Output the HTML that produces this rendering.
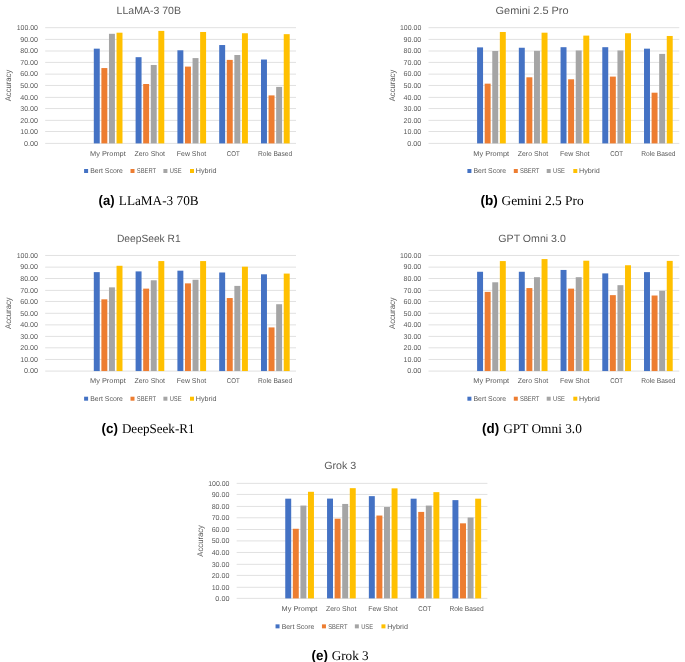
<!DOCTYPE html>
<html lang="en">
<head>
<meta charset="utf-8">
<title>Accuracy comparison charts</title>
<style>
html,body{margin:0;padding:0;background:#fff;}
body{width:685px;height:662px;overflow:hidden;}
svg{display:block;}
text{font-family:"Liberation Sans",sans-serif;fill:#595959;text-rendering:geometricPrecision;}
.ax{font-size:7px;}
.ay{font-size:8.2px;}
.ti{font-size:10.5px;}
.cb{font-size:13.7px;font-weight:bold;fill:#000;}
.ct{font-family:"Liberation Serif",serif;font-size:13.4px;fill:#000;}
</style>
</head>
<body>
<svg width="685" height="662" viewBox="0 0 685 662">
<rect width="685" height="662" fill="#ffffff"/>
<g id="chart-a">
<line x1="45.2" x2="296" y1="143.4" y2="143.4" stroke="#E1E1E1" stroke-width="1"/>
<text class="ax" x="38" y="145.7" text-anchor="end" textLength="14.1" lengthAdjust="spacingAndGlyphs">0.00</text>
<line x1="45.2" x2="296" y1="131.5" y2="131.5" stroke="#E1E1E1" stroke-width="1"/>
<text class="ax" x="38" y="133.8" text-anchor="end" textLength="17.8" lengthAdjust="spacingAndGlyphs">10.00</text>
<line x1="45.2" x2="296" y1="120.35" y2="120.35" stroke="#E1E1E1" stroke-width="1"/>
<text class="ax" x="38" y="122.65" text-anchor="end" textLength="17.8" lengthAdjust="spacingAndGlyphs">20.00</text>
<line x1="45.2" x2="296" y1="108.55" y2="108.55" stroke="#E1E1E1" stroke-width="1"/>
<text class="ax" x="38" y="110.85" text-anchor="end" textLength="17.8" lengthAdjust="spacingAndGlyphs">30.00</text>
<line x1="45.2" x2="296" y1="97.4" y2="97.4" stroke="#E1E1E1" stroke-width="1"/>
<text class="ax" x="38" y="99.7" text-anchor="end" textLength="17.8" lengthAdjust="spacingAndGlyphs">40.00</text>
<line x1="45.2" x2="296" y1="85.45" y2="85.45" stroke="#E1E1E1" stroke-width="1"/>
<text class="ax" x="38" y="87.75" text-anchor="end" textLength="17.8" lengthAdjust="spacingAndGlyphs">50.00</text>
<line x1="45.2" x2="296" y1="74.15" y2="74.15" stroke="#E1E1E1" stroke-width="1"/>
<text class="ax" x="38" y="76.45" text-anchor="end" textLength="17.8" lengthAdjust="spacingAndGlyphs">60.00</text>
<line x1="45.2" x2="296" y1="62.4" y2="62.4" stroke="#E1E1E1" stroke-width="1"/>
<text class="ax" x="38" y="64.7" text-anchor="end" textLength="17.8" lengthAdjust="spacingAndGlyphs">70.00</text>
<line x1="45.2" x2="296" y1="51" y2="51" stroke="#E1E1E1" stroke-width="1"/>
<text class="ax" x="38" y="53.3" text-anchor="end" textLength="17.8" lengthAdjust="spacingAndGlyphs">80.00</text>
<line x1="45.2" x2="296" y1="39.4" y2="39.4" stroke="#E1E1E1" stroke-width="1"/>
<text class="ax" x="38" y="41.7" text-anchor="end" textLength="17.8" lengthAdjust="spacingAndGlyphs">90.00</text>
<line x1="45.2" x2="296" y1="27.7" y2="27.7" stroke="#E1E1E1" stroke-width="1"/>
<text class="ax" x="38" y="30" text-anchor="end" textLength="21.3" lengthAdjust="spacingAndGlyphs">100.00</text>
<rect x="93.8" y="48.66" width="5.95" height="94.74" fill="#4472C4"/>
<rect x="101.38" y="68.06" width="5.95" height="75.34" fill="#ED7D31"/>
<rect x="108.96" y="33.8" width="5.95" height="109.6" fill="#A5A5A5"/>
<rect x="116.54" y="32.7" width="5.95" height="110.7" fill="#FFC000"/>
<rect x="135.6" y="57.18" width="5.95" height="86.22" fill="#4472C4"/>
<rect x="143.18" y="84" width="5.95" height="59.4" fill="#ED7D31"/>
<rect x="150.76" y="64.98" width="5.95" height="78.42" fill="#A5A5A5"/>
<rect x="158.34" y="30.9" width="5.95" height="112.5" fill="#FFC000"/>
<rect x="177.4" y="50.29" width="5.95" height="93.11" fill="#4472C4"/>
<rect x="184.98" y="66.6" width="5.95" height="76.8" fill="#ED7D31"/>
<rect x="192.56" y="58.09" width="5.95" height="85.31" fill="#A5A5A5"/>
<rect x="200.14" y="31.98" width="5.95" height="111.42" fill="#FFC000"/>
<rect x="219.2" y="45.04" width="5.95" height="98.36" fill="#4472C4"/>
<rect x="226.78" y="59.9" width="5.95" height="83.5" fill="#ED7D31"/>
<rect x="234.36" y="55" width="5.95" height="88.4" fill="#A5A5A5"/>
<rect x="241.94" y="33.25" width="5.95" height="110.15" fill="#FFC000"/>
<rect x="261" y="59.54" width="5.95" height="83.86" fill="#4472C4"/>
<rect x="268.58" y="95.4" width="5.95" height="48" fill="#ED7D31"/>
<rect x="276.16" y="86.9" width="5.95" height="56.5" fill="#A5A5A5"/>
<rect x="283.74" y="34.16" width="5.95" height="109.24" fill="#FFC000"/>
<text class="ax" x="107.9" y="155.6" text-anchor="middle" textLength="35.7" lengthAdjust="spacingAndGlyphs">My Prompt</text>
<text class="ax" x="149.7" y="155.6" text-anchor="middle" textLength="30.5" lengthAdjust="spacingAndGlyphs">Zero Shot</text>
<text class="ax" x="191.5" y="155.6" text-anchor="middle" textLength="29.4" lengthAdjust="spacingAndGlyphs">Few Shot</text>
<text class="ax" x="233.3" y="155.6" text-anchor="middle" textLength="12.9" lengthAdjust="spacingAndGlyphs">COT</text>
<text class="ax" x="275.1" y="155.6" text-anchor="middle" textLength="34.3" lengthAdjust="spacingAndGlyphs">Role Based</text>
<text class="ti" x="148.8" y="13.9" text-anchor="middle" textLength="64.39999999999999" lengthAdjust="spacingAndGlyphs">LLaMA-3 70B</text>
<text class="ay" transform="translate(11.3 85.5) rotate(-90)" text-anchor="middle" textLength="31.6" lengthAdjust="spacingAndGlyphs">Accuracy</text>
<rect x="84.1" y="169" width="4" height="4" fill="#4472C4"/>
<text class="ax" x="90.2" y="173.15" textLength="32.7" lengthAdjust="spacingAndGlyphs">Bert Score</text>
<rect x="130.5" y="169" width="4" height="4" fill="#ED7D31"/>
<text class="ax" x="136.8" y="173.15" textLength="19.2" lengthAdjust="spacingAndGlyphs">SBERT</text>
<rect x="163.4" y="169" width="4" height="4" fill="#A5A5A5"/>
<text class="ax" x="169.7" y="173.15" textLength="11.9" lengthAdjust="spacingAndGlyphs">USE</text>
<rect x="190" y="169" width="4" height="4" fill="#FFC000"/>
<text class="ax" x="195.7" y="173.15" textLength="20.8" lengthAdjust="spacingAndGlyphs">Hybrid</text>
<text class="cb" x="98.6" y="204.6" textLength="16.0" lengthAdjust="spacingAndGlyphs">(a)</text>
<text class="ct" x="118.8" y="204.6" textLength="79.8" lengthAdjust="spacingAndGlyphs">LLaMA-3 70B</text>
</g>
<g id="chart-b">
<line x1="428.5" x2="679.3" y1="143.4" y2="143.4" stroke="#E1E1E1" stroke-width="1"/>
<text class="ax" x="421.3" y="145.7" text-anchor="end" textLength="14.1" lengthAdjust="spacingAndGlyphs">0.00</text>
<line x1="428.5" x2="679.3" y1="131.5" y2="131.5" stroke="#E1E1E1" stroke-width="1"/>
<text class="ax" x="421.3" y="133.8" text-anchor="end" textLength="17.8" lengthAdjust="spacingAndGlyphs">10.00</text>
<line x1="428.5" x2="679.3" y1="120.35" y2="120.35" stroke="#E1E1E1" stroke-width="1"/>
<text class="ax" x="421.3" y="122.65" text-anchor="end" textLength="17.8" lengthAdjust="spacingAndGlyphs">20.00</text>
<line x1="428.5" x2="679.3" y1="108.55" y2="108.55" stroke="#E1E1E1" stroke-width="1"/>
<text class="ax" x="421.3" y="110.85" text-anchor="end" textLength="17.8" lengthAdjust="spacingAndGlyphs">30.00</text>
<line x1="428.5" x2="679.3" y1="97.4" y2="97.4" stroke="#E1E1E1" stroke-width="1"/>
<text class="ax" x="421.3" y="99.7" text-anchor="end" textLength="17.8" lengthAdjust="spacingAndGlyphs">40.00</text>
<line x1="428.5" x2="679.3" y1="85.45" y2="85.45" stroke="#E1E1E1" stroke-width="1"/>
<text class="ax" x="421.3" y="87.75" text-anchor="end" textLength="17.8" lengthAdjust="spacingAndGlyphs">50.00</text>
<line x1="428.5" x2="679.3" y1="74.15" y2="74.15" stroke="#E1E1E1" stroke-width="1"/>
<text class="ax" x="421.3" y="76.45" text-anchor="end" textLength="17.8" lengthAdjust="spacingAndGlyphs">60.00</text>
<line x1="428.5" x2="679.3" y1="62.4" y2="62.4" stroke="#E1E1E1" stroke-width="1"/>
<text class="ax" x="421.3" y="64.7" text-anchor="end" textLength="17.8" lengthAdjust="spacingAndGlyphs">70.00</text>
<line x1="428.5" x2="679.3" y1="51" y2="51" stroke="#E1E1E1" stroke-width="1"/>
<text class="ax" x="421.3" y="53.3" text-anchor="end" textLength="17.8" lengthAdjust="spacingAndGlyphs">80.00</text>
<line x1="428.5" x2="679.3" y1="39.4" y2="39.4" stroke="#E1E1E1" stroke-width="1"/>
<text class="ax" x="421.3" y="41.7" text-anchor="end" textLength="17.8" lengthAdjust="spacingAndGlyphs">90.00</text>
<line x1="428.5" x2="679.3" y1="27.7" y2="27.7" stroke="#E1E1E1" stroke-width="1"/>
<text class="ax" x="421.3" y="30" text-anchor="end" textLength="21.3" lengthAdjust="spacingAndGlyphs">100.00</text>
<rect x="477.1" y="47.39" width="5.95" height="96.01" fill="#4472C4"/>
<rect x="484.68" y="83.65" width="5.95" height="59.75" fill="#ED7D31"/>
<rect x="492.26" y="51" width="5.95" height="92.4" fill="#A5A5A5"/>
<rect x="499.84" y="31.98" width="5.95" height="111.42" fill="#FFC000"/>
<rect x="518.83" y="47.75" width="5.95" height="95.65" fill="#4472C4"/>
<rect x="526.41" y="77.3" width="5.95" height="66.1" fill="#ED7D31"/>
<rect x="533.99" y="50.84" width="5.95" height="92.56" fill="#A5A5A5"/>
<rect x="541.57" y="32.7" width="5.95" height="110.7" fill="#FFC000"/>
<rect x="560.56" y="47.2" width="5.95" height="96.2" fill="#4472C4"/>
<rect x="568.14" y="79.3" width="5.95" height="64.1" fill="#ED7D31"/>
<rect x="575.72" y="50.47" width="5.95" height="92.93" fill="#A5A5A5"/>
<rect x="583.3" y="35.6" width="5.95" height="107.8" fill="#FFC000"/>
<rect x="602.29" y="47.2" width="5.95" height="96.2" fill="#4472C4"/>
<rect x="609.87" y="76.6" width="5.95" height="66.8" fill="#ED7D31"/>
<rect x="617.45" y="50.47" width="5.95" height="92.93" fill="#A5A5A5"/>
<rect x="625.03" y="33.25" width="5.95" height="110.15" fill="#FFC000"/>
<rect x="644.02" y="48.66" width="5.95" height="94.74" fill="#4472C4"/>
<rect x="651.6" y="92.7" width="5.95" height="50.7" fill="#ED7D31"/>
<rect x="659.18" y="53.9" width="5.95" height="89.5" fill="#A5A5A5"/>
<rect x="666.76" y="35.97" width="5.95" height="107.43" fill="#FFC000"/>
<text class="ax" x="491.2" y="155.6" text-anchor="middle" textLength="35.7" lengthAdjust="spacingAndGlyphs">My Prompt</text>
<text class="ax" x="533" y="155.6" text-anchor="middle" textLength="30.5" lengthAdjust="spacingAndGlyphs">Zero Shot</text>
<text class="ax" x="574.8" y="155.6" text-anchor="middle" textLength="29.4" lengthAdjust="spacingAndGlyphs">Few Shot</text>
<text class="ax" x="616.6" y="155.6" text-anchor="middle" textLength="12.9" lengthAdjust="spacingAndGlyphs">COT</text>
<text class="ax" x="658.4" y="155.6" text-anchor="middle" textLength="34.3" lengthAdjust="spacingAndGlyphs">Role Based</text>
<text class="ti" x="532.1" y="13.9" text-anchor="middle" textLength="73.0" lengthAdjust="spacingAndGlyphs">Gemini 2.5 Pro</text>
<text class="ay" transform="translate(394.6 85.5) rotate(-90)" text-anchor="middle" textLength="31.6" lengthAdjust="spacingAndGlyphs">Accuracy</text>
<rect x="467.4" y="169" width="4" height="4" fill="#4472C4"/>
<text class="ax" x="473.5" y="173.15" textLength="32.7" lengthAdjust="spacingAndGlyphs">Bert Score</text>
<rect x="513.8" y="169" width="4" height="4" fill="#ED7D31"/>
<text class="ax" x="520.1" y="173.15" textLength="19.2" lengthAdjust="spacingAndGlyphs">SBERT</text>
<rect x="546.7" y="169" width="4" height="4" fill="#A5A5A5"/>
<text class="ax" x="553" y="173.15" textLength="11.9" lengthAdjust="spacingAndGlyphs">USE</text>
<rect x="573.3" y="169" width="4" height="4" fill="#FFC000"/>
<text class="ax" x="579" y="173.15" textLength="20.8" lengthAdjust="spacingAndGlyphs">Hybrid</text>
<text class="cb" x="480.4" y="204.6" textLength="17.400000000000002" lengthAdjust="spacingAndGlyphs">(b)</text>
<text class="ct" x="501.5" y="204.6" textLength="82.1" lengthAdjust="spacingAndGlyphs">Gemini 2.5 Pro</text>
</g>
<g id="chart-c">
<line x1="45.2" x2="296" y1="371.08" y2="371.08" stroke="#E1E1E1" stroke-width="1"/>
<text class="ax" x="38" y="373.38" text-anchor="end" textLength="14.1" lengthAdjust="spacingAndGlyphs">0.00</text>
<line x1="45.2" x2="296" y1="359.46" y2="359.46" stroke="#E1E1E1" stroke-width="1"/>
<text class="ax" x="38" y="361.76" text-anchor="end" textLength="17.8" lengthAdjust="spacingAndGlyphs">10.00</text>
<line x1="45.2" x2="296" y1="347.8" y2="347.8" stroke="#E1E1E1" stroke-width="1"/>
<text class="ax" x="38" y="350.1" text-anchor="end" textLength="17.8" lengthAdjust="spacingAndGlyphs">20.00</text>
<line x1="45.2" x2="296" y1="336.4" y2="336.4" stroke="#E1E1E1" stroke-width="1"/>
<text class="ax" x="38" y="338.7" text-anchor="end" textLength="17.8" lengthAdjust="spacingAndGlyphs">30.00</text>
<line x1="45.2" x2="296" y1="324.87" y2="324.87" stroke="#E1E1E1" stroke-width="1"/>
<text class="ax" x="38" y="327.17" text-anchor="end" textLength="17.8" lengthAdjust="spacingAndGlyphs">40.00</text>
<line x1="45.2" x2="296" y1="313.3" y2="313.3" stroke="#E1E1E1" stroke-width="1"/>
<text class="ax" x="38" y="315.6" text-anchor="end" textLength="17.8" lengthAdjust="spacingAndGlyphs">50.00</text>
<line x1="45.2" x2="296" y1="301.45" y2="301.45" stroke="#E1E1E1" stroke-width="1"/>
<text class="ax" x="38" y="303.75" text-anchor="end" textLength="17.8" lengthAdjust="spacingAndGlyphs">60.00</text>
<line x1="45.2" x2="296" y1="290.4" y2="290.4" stroke="#E1E1E1" stroke-width="1"/>
<text class="ax" x="38" y="292.7" text-anchor="end" textLength="17.8" lengthAdjust="spacingAndGlyphs">70.00</text>
<line x1="45.2" x2="296" y1="278.5" y2="278.5" stroke="#E1E1E1" stroke-width="1"/>
<text class="ax" x="38" y="280.8" text-anchor="end" textLength="17.8" lengthAdjust="spacingAndGlyphs">80.00</text>
<line x1="45.2" x2="296" y1="267.15" y2="267.15" stroke="#E1E1E1" stroke-width="1"/>
<text class="ax" x="38" y="269.45" text-anchor="end" textLength="17.8" lengthAdjust="spacingAndGlyphs">90.00</text>
<line x1="45.2" x2="296" y1="255.45" y2="255.45" stroke="#E1E1E1" stroke-width="1"/>
<text class="ax" x="38" y="257.75" text-anchor="end" textLength="21.3" lengthAdjust="spacingAndGlyphs">100.00</text>
<rect x="93.8" y="272.13" width="5.95" height="98.92" fill="#4472C4"/>
<rect x="101.38" y="299.32" width="5.95" height="71.73" fill="#ED7D31"/>
<rect x="108.96" y="287.36" width="5.95" height="83.69" fill="#A5A5A5"/>
<rect x="116.54" y="265.78" width="5.95" height="105.27" fill="#FFC000"/>
<rect x="135.6" y="271.4" width="5.95" height="99.65" fill="#4472C4"/>
<rect x="143.18" y="288.63" width="5.95" height="82.42" fill="#ED7D31"/>
<rect x="150.76" y="280.29" width="5.95" height="90.76" fill="#A5A5A5"/>
<rect x="158.34" y="261.07" width="5.95" height="109.98" fill="#FFC000"/>
<rect x="177.4" y="270.68" width="5.95" height="100.37" fill="#4472C4"/>
<rect x="184.98" y="283.37" width="5.95" height="87.68" fill="#ED7D31"/>
<rect x="192.56" y="279.74" width="5.95" height="91.31" fill="#A5A5A5"/>
<rect x="200.14" y="261.07" width="5.95" height="109.98" fill="#FFC000"/>
<rect x="219.2" y="272.49" width="5.95" height="98.56" fill="#4472C4"/>
<rect x="226.78" y="298.05" width="5.95" height="73" fill="#ED7D31"/>
<rect x="234.36" y="285.9" width="5.95" height="85.15" fill="#A5A5A5"/>
<rect x="241.94" y="266.69" width="5.95" height="104.36" fill="#FFC000"/>
<rect x="261" y="274.3" width="5.95" height="96.75" fill="#4472C4"/>
<rect x="268.58" y="327.42" width="5.95" height="43.63" fill="#ED7D31"/>
<rect x="276.16" y="304.22" width="5.95" height="66.83" fill="#A5A5A5"/>
<rect x="283.74" y="273.58" width="5.95" height="97.47" fill="#FFC000"/>
<text class="ax" x="107.9" y="383.3" text-anchor="middle" textLength="35.7" lengthAdjust="spacingAndGlyphs">My Prompt</text>
<text class="ax" x="149.7" y="383.3" text-anchor="middle" textLength="30.5" lengthAdjust="spacingAndGlyphs">Zero Shot</text>
<text class="ax" x="191.5" y="383.3" text-anchor="middle" textLength="29.4" lengthAdjust="spacingAndGlyphs">Few Shot</text>
<text class="ax" x="233.3" y="383.3" text-anchor="middle" textLength="12.9" lengthAdjust="spacingAndGlyphs">COT</text>
<text class="ax" x="275.1" y="383.3" text-anchor="middle" textLength="34.3" lengthAdjust="spacingAndGlyphs">Role Based</text>
<text class="ti" x="148.8" y="241.6" text-anchor="middle" textLength="63.800000000000004" lengthAdjust="spacingAndGlyphs">DeepSeek R1</text>
<text class="ay" transform="translate(11.3 313.2) rotate(-90)" text-anchor="middle" textLength="31.6" lengthAdjust="spacingAndGlyphs">Accuracy</text>
<rect x="84.1" y="396.7" width="4" height="4" fill="#4472C4"/>
<text class="ax" x="90.2" y="400.85" textLength="32.7" lengthAdjust="spacingAndGlyphs">Bert Score</text>
<rect x="130.5" y="396.7" width="4" height="4" fill="#ED7D31"/>
<text class="ax" x="136.8" y="400.85" textLength="19.2" lengthAdjust="spacingAndGlyphs">SBERT</text>
<rect x="163.4" y="396.7" width="4" height="4" fill="#A5A5A5"/>
<text class="ax" x="169.7" y="400.85" textLength="11.9" lengthAdjust="spacingAndGlyphs">USE</text>
<rect x="190" y="396.7" width="4" height="4" fill="#FFC000"/>
<text class="ax" x="195.7" y="400.85" textLength="20.8" lengthAdjust="spacingAndGlyphs">Hybrid</text>
<text class="cb" x="101.5" y="432.6" textLength="16.400000000000002" lengthAdjust="spacingAndGlyphs">(c)</text>
<text class="ct" x="121.9" y="432.6" textLength="72.6" lengthAdjust="spacingAndGlyphs">DeepSeek-R1</text>
</g>
<g id="chart-d">
<line x1="428.5" x2="679.3" y1="371.08" y2="371.08" stroke="#E1E1E1" stroke-width="1"/>
<text class="ax" x="421.3" y="373.38" text-anchor="end" textLength="14.1" lengthAdjust="spacingAndGlyphs">0.00</text>
<line x1="428.5" x2="679.3" y1="359.46" y2="359.46" stroke="#E1E1E1" stroke-width="1"/>
<text class="ax" x="421.3" y="361.76" text-anchor="end" textLength="17.8" lengthAdjust="spacingAndGlyphs">10.00</text>
<line x1="428.5" x2="679.3" y1="347.8" y2="347.8" stroke="#E1E1E1" stroke-width="1"/>
<text class="ax" x="421.3" y="350.1" text-anchor="end" textLength="17.8" lengthAdjust="spacingAndGlyphs">20.00</text>
<line x1="428.5" x2="679.3" y1="336.4" y2="336.4" stroke="#E1E1E1" stroke-width="1"/>
<text class="ax" x="421.3" y="338.7" text-anchor="end" textLength="17.8" lengthAdjust="spacingAndGlyphs">30.00</text>
<line x1="428.5" x2="679.3" y1="324.87" y2="324.87" stroke="#E1E1E1" stroke-width="1"/>
<text class="ax" x="421.3" y="327.17" text-anchor="end" textLength="17.8" lengthAdjust="spacingAndGlyphs">40.00</text>
<line x1="428.5" x2="679.3" y1="313.3" y2="313.3" stroke="#E1E1E1" stroke-width="1"/>
<text class="ax" x="421.3" y="315.6" text-anchor="end" textLength="17.8" lengthAdjust="spacingAndGlyphs">50.00</text>
<line x1="428.5" x2="679.3" y1="301.45" y2="301.45" stroke="#E1E1E1" stroke-width="1"/>
<text class="ax" x="421.3" y="303.75" text-anchor="end" textLength="17.8" lengthAdjust="spacingAndGlyphs">60.00</text>
<line x1="428.5" x2="679.3" y1="290.4" y2="290.4" stroke="#E1E1E1" stroke-width="1"/>
<text class="ax" x="421.3" y="292.7" text-anchor="end" textLength="17.8" lengthAdjust="spacingAndGlyphs">70.00</text>
<line x1="428.5" x2="679.3" y1="278.5" y2="278.5" stroke="#E1E1E1" stroke-width="1"/>
<text class="ax" x="421.3" y="280.8" text-anchor="end" textLength="17.8" lengthAdjust="spacingAndGlyphs">80.00</text>
<line x1="428.5" x2="679.3" y1="267.15" y2="267.15" stroke="#E1E1E1" stroke-width="1"/>
<text class="ax" x="421.3" y="269.45" text-anchor="end" textLength="17.8" lengthAdjust="spacingAndGlyphs">90.00</text>
<line x1="428.5" x2="679.3" y1="255.45" y2="255.45" stroke="#E1E1E1" stroke-width="1"/>
<text class="ax" x="421.3" y="257.75" text-anchor="end" textLength="21.3" lengthAdjust="spacingAndGlyphs">100.00</text>
<rect x="477.1" y="271.77" width="5.95" height="99.28" fill="#4472C4"/>
<rect x="484.68" y="291.89" width="5.95" height="79.16" fill="#ED7D31"/>
<rect x="492.26" y="282.28" width="5.95" height="88.77" fill="#A5A5A5"/>
<rect x="499.84" y="261.07" width="5.95" height="109.98" fill="#FFC000"/>
<rect x="518.83" y="271.77" width="5.95" height="99.28" fill="#4472C4"/>
<rect x="526.41" y="288.08" width="5.95" height="82.97" fill="#ED7D31"/>
<rect x="533.99" y="277.2" width="5.95" height="93.85" fill="#A5A5A5"/>
<rect x="541.57" y="259.08" width="5.95" height="111.97" fill="#FFC000"/>
<rect x="560.56" y="269.95" width="5.95" height="101.1" fill="#4472C4"/>
<rect x="568.14" y="288.63" width="5.95" height="82.42" fill="#ED7D31"/>
<rect x="575.72" y="277.2" width="5.95" height="93.85" fill="#A5A5A5"/>
<rect x="583.3" y="260.71" width="5.95" height="110.34" fill="#FFC000"/>
<rect x="602.29" y="273.4" width="5.95" height="97.65" fill="#4472C4"/>
<rect x="609.87" y="295.15" width="5.95" height="75.9" fill="#ED7D31"/>
<rect x="617.45" y="285.18" width="5.95" height="85.87" fill="#A5A5A5"/>
<rect x="625.03" y="265.24" width="5.95" height="105.81" fill="#FFC000"/>
<rect x="644.02" y="272.13" width="5.95" height="98.92" fill="#4472C4"/>
<rect x="651.6" y="295.52" width="5.95" height="75.53" fill="#ED7D31"/>
<rect x="659.18" y="290.8" width="5.95" height="80.25" fill="#A5A5A5"/>
<rect x="666.76" y="260.89" width="5.95" height="110.16" fill="#FFC000"/>
<text class="ax" x="491.2" y="383.3" text-anchor="middle" textLength="35.7" lengthAdjust="spacingAndGlyphs">My Prompt</text>
<text class="ax" x="533" y="383.3" text-anchor="middle" textLength="30.5" lengthAdjust="spacingAndGlyphs">Zero Shot</text>
<text class="ax" x="574.8" y="383.3" text-anchor="middle" textLength="29.4" lengthAdjust="spacingAndGlyphs">Few Shot</text>
<text class="ax" x="616.6" y="383.3" text-anchor="middle" textLength="12.9" lengthAdjust="spacingAndGlyphs">COT</text>
<text class="ax" x="658.4" y="383.3" text-anchor="middle" textLength="34.3" lengthAdjust="spacingAndGlyphs">Role Based</text>
<text class="ti" x="532.1" y="241.6" text-anchor="middle" textLength="67.5" lengthAdjust="spacingAndGlyphs">GPT Omni 3.0</text>
<text class="ay" transform="translate(394.6 313.2) rotate(-90)" text-anchor="middle" textLength="31.6" lengthAdjust="spacingAndGlyphs">Accuracy</text>
<rect x="467.4" y="396.7" width="4" height="4" fill="#4472C4"/>
<text class="ax" x="473.5" y="400.85" textLength="32.7" lengthAdjust="spacingAndGlyphs">Bert Score</text>
<rect x="513.8" y="396.7" width="4" height="4" fill="#ED7D31"/>
<text class="ax" x="520.1" y="400.85" textLength="19.2" lengthAdjust="spacingAndGlyphs">SBERT</text>
<rect x="546.7" y="396.7" width="4" height="4" fill="#A5A5A5"/>
<text class="ax" x="553" y="400.85" textLength="11.9" lengthAdjust="spacingAndGlyphs">USE</text>
<rect x="573.3" y="396.7" width="4" height="4" fill="#FFC000"/>
<text class="ax" x="579" y="400.85" textLength="20.8" lengthAdjust="spacingAndGlyphs">Hybrid</text>
<text class="cb" x="482.1" y="432.6" textLength="17.1" lengthAdjust="spacingAndGlyphs">(d)</text>
<text class="ct" x="503.2" y="432.6" textLength="78.7" lengthAdjust="spacingAndGlyphs">GPT Omni 3.0</text>
</g>
<g id="chart-e">
<line x1="236.65" x2="487.45" y1="598.36" y2="598.36" stroke="#E1E1E1" stroke-width="1"/>
<text class="ax" x="229.45" y="600.66" text-anchor="end" textLength="14.1" lengthAdjust="spacingAndGlyphs">0.00</text>
<line x1="236.65" x2="487.45" y1="587.3" y2="587.3" stroke="#E1E1E1" stroke-width="1"/>
<text class="ax" x="229.45" y="589.6" text-anchor="end" textLength="17.8" lengthAdjust="spacingAndGlyphs">10.00</text>
<line x1="236.65" x2="487.45" y1="575.4" y2="575.4" stroke="#E1E1E1" stroke-width="1"/>
<text class="ax" x="229.45" y="577.7" text-anchor="end" textLength="17.8" lengthAdjust="spacingAndGlyphs">20.00</text>
<line x1="236.65" x2="487.45" y1="564.34" y2="564.34" stroke="#E1E1E1" stroke-width="1"/>
<text class="ax" x="229.45" y="566.64" text-anchor="end" textLength="17.8" lengthAdjust="spacingAndGlyphs">30.00</text>
<line x1="236.65" x2="487.45" y1="552.44" y2="552.44" stroke="#E1E1E1" stroke-width="1"/>
<text class="ax" x="229.45" y="554.74" text-anchor="end" textLength="17.8" lengthAdjust="spacingAndGlyphs">40.00</text>
<line x1="236.65" x2="487.45" y1="540.9" y2="540.9" stroke="#E1E1E1" stroke-width="1"/>
<text class="ax" x="229.45" y="543.2" text-anchor="end" textLength="17.8" lengthAdjust="spacingAndGlyphs">50.00</text>
<line x1="236.65" x2="487.45" y1="529.48" y2="529.48" stroke="#E1E1E1" stroke-width="1"/>
<text class="ax" x="229.45" y="531.78" text-anchor="end" textLength="17.8" lengthAdjust="spacingAndGlyphs">60.00</text>
<line x1="236.65" x2="487.45" y1="517.77" y2="517.77" stroke="#E1E1E1" stroke-width="1"/>
<text class="ax" x="229.45" y="520.07" text-anchor="end" textLength="17.8" lengthAdjust="spacingAndGlyphs">70.00</text>
<line x1="236.65" x2="487.45" y1="506.43" y2="506.43" stroke="#E1E1E1" stroke-width="1"/>
<text class="ax" x="229.45" y="508.73" text-anchor="end" textLength="17.8" lengthAdjust="spacingAndGlyphs">80.00</text>
<line x1="236.65" x2="487.45" y1="494.43" y2="494.43" stroke="#E1E1E1" stroke-width="1"/>
<text class="ax" x="229.45" y="496.73" text-anchor="end" textLength="17.8" lengthAdjust="spacingAndGlyphs">90.00</text>
<line x1="236.65" x2="487.45" y1="483.37" y2="483.37" stroke="#E1E1E1" stroke-width="1"/>
<text class="ax" x="229.45" y="485.67" text-anchor="end" textLength="21.3" lengthAdjust="spacingAndGlyphs">100.00</text>
<rect x="285.25" y="498.68" width="5.95" height="99.72" fill="#4472C4"/>
<rect x="292.83" y="528.77" width="5.95" height="69.63" fill="#ED7D31"/>
<rect x="300.41" y="505.57" width="5.95" height="92.83" fill="#A5A5A5"/>
<rect x="307.99" y="491.79" width="5.95" height="106.61" fill="#FFC000"/>
<rect x="327.05" y="498.6" width="5.95" height="99.8" fill="#4472C4"/>
<rect x="334.63" y="518.7" width="5.95" height="79.7" fill="#ED7D31"/>
<rect x="342.21" y="503.94" width="5.95" height="94.46" fill="#A5A5A5"/>
<rect x="349.79" y="488.16" width="5.95" height="110.24" fill="#FFC000"/>
<rect x="368.85" y="496.14" width="5.95" height="102.26" fill="#4472C4"/>
<rect x="376.43" y="515.54" width="5.95" height="82.86" fill="#ED7D31"/>
<rect x="384.01" y="507.02" width="5.95" height="91.38" fill="#A5A5A5"/>
<rect x="391.59" y="488.35" width="5.95" height="110.05" fill="#FFC000"/>
<rect x="410.65" y="498.68" width="5.95" height="99.72" fill="#4472C4"/>
<rect x="418.23" y="511.91" width="5.95" height="86.49" fill="#ED7D31"/>
<rect x="425.81" y="505.57" width="5.95" height="92.83" fill="#A5A5A5"/>
<rect x="433.39" y="492.15" width="5.95" height="106.25" fill="#FFC000"/>
<rect x="452.45" y="500.13" width="5.95" height="98.27" fill="#4472C4"/>
<rect x="460.03" y="523.33" width="5.95" height="75.07" fill="#ED7D31"/>
<rect x="467.61" y="517.53" width="5.95" height="80.87" fill="#A5A5A5"/>
<rect x="475.19" y="498.68" width="5.95" height="99.72" fill="#FFC000"/>
<text class="ax" x="299.35" y="610.95" text-anchor="middle" textLength="35.7" lengthAdjust="spacingAndGlyphs">My Prompt</text>
<text class="ax" x="341.15" y="610.95" text-anchor="middle" textLength="30.5" lengthAdjust="spacingAndGlyphs">Zero Shot</text>
<text class="ax" x="382.95" y="610.95" text-anchor="middle" textLength="29.4" lengthAdjust="spacingAndGlyphs">Few Shot</text>
<text class="ax" x="424.75" y="610.95" text-anchor="middle" textLength="12.9" lengthAdjust="spacingAndGlyphs">COT</text>
<text class="ax" x="466.55" y="610.95" text-anchor="middle" textLength="34.3" lengthAdjust="spacingAndGlyphs">Role Based</text>
<text class="ti" x="340.25" y="469.25" text-anchor="middle" textLength="32.0" lengthAdjust="spacingAndGlyphs">Grok 3</text>
<text class="ay" transform="translate(202.75 540.85) rotate(-90)" text-anchor="middle" textLength="31.6" lengthAdjust="spacingAndGlyphs">Accuracy</text>
<rect x="275.55" y="624.35" width="4" height="4" fill="#4472C4"/>
<text class="ax" x="281.65" y="628.5" textLength="32.7" lengthAdjust="spacingAndGlyphs">Bert Score</text>
<rect x="321.95" y="624.35" width="4" height="4" fill="#ED7D31"/>
<text class="ax" x="328.25" y="628.5" textLength="19.2" lengthAdjust="spacingAndGlyphs">SBERT</text>
<rect x="354.85" y="624.35" width="4" height="4" fill="#A5A5A5"/>
<text class="ax" x="361.15" y="628.5" textLength="11.9" lengthAdjust="spacingAndGlyphs">USE</text>
<rect x="381.45" y="624.35" width="4" height="4" fill="#FFC000"/>
<text class="ax" x="387.15" y="628.5" textLength="20.8" lengthAdjust="spacingAndGlyphs">Hybrid</text>
<text class="cb" x="311.5" y="659.8" textLength="16.400000000000002" lengthAdjust="spacingAndGlyphs">(e)</text>
<text class="ct" x="331.7" y="659.8" textLength="36.9" lengthAdjust="spacingAndGlyphs">Grok 3</text>
</g>
</svg>
</body>
</html>
